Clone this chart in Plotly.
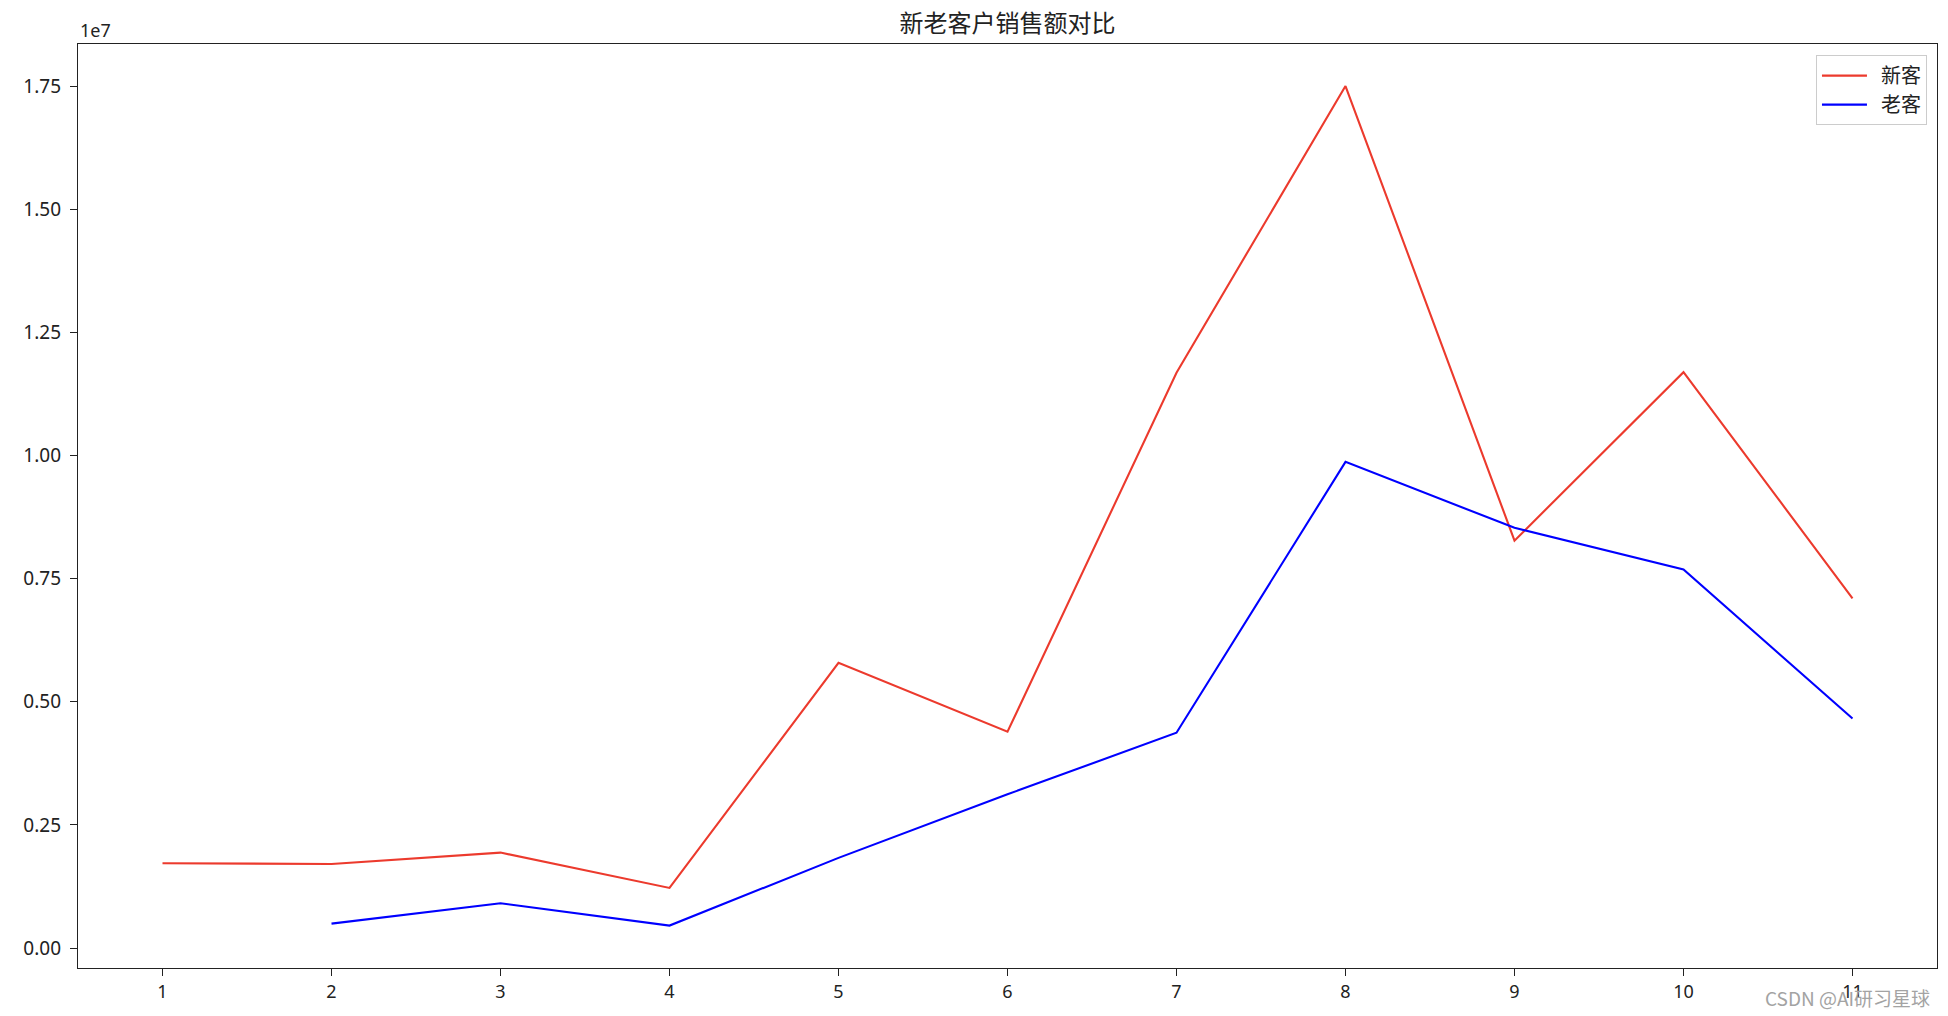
import plotly.graph_objects as go

# ---- data ----
months_new = [1, 2, 3, 4, 5, 6, 7, 8, 9, 10, 11]
sales_new = [1.72e6, 1.706e6, 1.937e6, 1.219e6, 5.79e6, 4.39e6, 11.68e6, 17.5e6, 8.27e6, 11.69e6, 7.10e6]
months_old = [2, 3, 4, 5, 6, 7, 8, 9, 10, 11]
sales_old = [0.495e6, 0.908e6, 0.455e6, 1.83e6, 3.12e6, 4.37e6, 9.87e6, 8.53e6, 7.685e6, 4.66e6]

x_ticks = list(range(1, 12))
y_ticks = [0, 2.5e6, 5e6, 7.5e6, 1e7, 1.25e7, 1.5e7, 1.75e7]
y_tick_labels = [f"{v / 1e7:.2f}" for v in y_ticks]

title_text = "新老客户销售额对比"
name_new = "新客"
name_old = "老客"
exp_text = "1e7"
watermark = "CSDN @AI研习星球"

FONT = "Noto Sans, Noto Sans CJK SC, sans-serif"
CJK = "Noto Sans CJK SC, sans-serif"
PAD = "\u00a0\u00a0"

fig = go.Figure()
fig.add_trace(go.Scatter(x=months_new, y=sales_new, mode="lines", name=PAD + name_new,
                         line=dict(color="#EC3A2D", width=2.1)))
fig.add_trace(go.Scatter(x=months_old, y=sales_old, mode="lines", name=PAD + name_old,
                         line=dict(color="#0000FF", width=2.1)))

axis_common = dict(showline=True, linecolor="#222222", linewidth=1.3, mirror=True,
                   showgrid=False, zeroline=False, ticks="outside", ticklen=7,
                   tickwidth=1.3, tickcolor="#222222")

fig.update_xaxes(range=[0.5, 11.5], tickmode="array", tickvals=x_ticks,
                 ticktext=[str(v) for v in x_ticks],
                 tickfont=dict(family=FONT, size=18, color="#222222"), **axis_common)
fig.update_yaxes(range=[-0.406e6, 1.8353e7], tickmode="array", tickvals=y_ticks,
                 ticktext=y_tick_labels, ticklabelstandoff=5,
                 tickfont=dict(family=FONT, size=19, color="#222222"), **axis_common)

fig.update_layout(
    width=1948, height=1016, autosize=False,
    margin=dict(l=78, r=11, t=44, b=48, pad=0),
    paper_bgcolor="white", plot_bgcolor="white",
    font=dict(family=FONT, color="#222222"),
    title=dict(text=title_text, x=0.5, xref="paper", xanchor="center",
               y=1 - 23.5 / 1016, yref="container", yanchor="middle",
               font=dict(family=CJK, size=24, color="#222222")),
    showlegend=True,
    legend=dict(x=0.9946, y=0.988, xanchor="right", yanchor="top",
                bgcolor="white", bordercolor="#CCCCCC", borderwidth=1,
                font=dict(family=CJK, size=20, color="#222222"),
                itemwidth=45, tracegroupgap=0),
    annotations=[
        dict(text=exp_text, xref="paper", yref="paper", x=0.0, y=1.0,
             xanchor="left", yanchor="bottom", yshift=0, showarrow=False,
             font=dict(family=FONT, size=18, color="#222222")),
        dict(text=watermark, xref="paper", yref="paper", x=0.9973, y=-0.0314,
             xanchor="right", yanchor="middle", showarrow=False,
             font=dict(family=CJK, size=19, color="#a3a3a3")),
    ],
)

fig.write_html("out.html", config={"displayModeBar": False},
               post_script="document.body.style.margin='0';document.body.style.overflow='hidden';")
